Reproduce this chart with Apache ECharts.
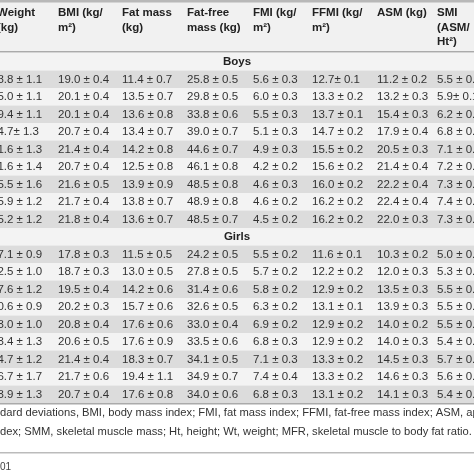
<!DOCTYPE html><html><head><meta charset="utf-8"><script src="https://cdn.jsdelivr.net/npm/echarts@6/dist/echarts.min.js"></script>
<style>html,body{margin:0;padding:0;background:#fff}#c{width:474px;height:474px}</style></head><body><div id="c"></div><script>
var headers=[["Weight","(kg)"],["BMI (kg/","m²)"],["Fat mass","(kg)"],["Fat-free","mass (kg)"],["FMI (kg/","m²)"],["FFMI (kg/","m²)"],["ASM (kg)"],["SMI","(ASM/","Ht²)"]];
var boys=[
["38.8 ± 1.1","19.0 ± 0.4","11.4 ± 0.7","25.8 ± 0.5","5.6 ± 0.3","12.7± 0.1","11.2 ± 0.2","5.5 ± 0.1"],
["45.0 ± 1.1","20.1 ± 0.4","13.5 ± 0.7","29.8 ± 0.5","6.0 ± 0.3","13.3 ± 0.2","13.2 ± 0.3","5.9± 0.1"],
["49.4 ± 1.1","20.1 ± 0.4","13.6 ± 0.8","33.8 ± 0.6","5.5 ± 0.3","13.7 ± 0.1","15.4 ± 0.3","6.2 ± 0.1"],
["54.7± 1.3","20.7 ± 0.4","13.4 ± 0.7","39.0 ± 0.7","5.1 ± 0.3","14.7 ± 0.2","17.9 ± 0.4","6.8 ± 0.1"],
["61.6 ± 1.3","21.4 ± 0.4","14.2 ± 0.8","44.6 ± 0.7","4.9 ± 0.3","15.5 ± 0.2","20.5 ± 0.3","7.1 ± 0.1"],
["61.6 ± 1.4","20.7 ± 0.4","12.5 ± 0.8","46.1 ± 0.8","4.2 ± 0.2","15.6 ± 0.2","21.4 ± 0.4","7.2 ± 0.1"],
["65.5 ± 1.6","21.6 ± 0.5","13.9 ± 0.9","48.5 ± 0.8","4.6 ± 0.3","16.0 ± 0.2","22.2 ± 0.4","7.3 ± 0.1"],
["65.9 ± 1.2","21.7 ± 0.4","13.8 ± 0.7","48.9 ± 0.8","4.6 ± 0.2","16.2 ± 0.2","22.4 ± 0.4","7.4 ± 0.1"],
["65.2 ± 1.2","21.8 ± 0.4","13.6 ± 0.7","48.5 ± 0.7","4.5 ± 0.2","16.2 ± 0.2","22.0 ± 0.3","7.3 ± 0.1"]];
var girls=[
["37.1 ± 0.9","17.8 ± 0.3","11.5 ± 0.5","24.2 ± 0.5","5.5 ± 0.2","11.6 ± 0.1","10.3 ± 0.2","5.0 ± 0.1"],
["42.5 ± 1.0","18.7 ± 0.3","13.0 ± 0.5","27.8 ± 0.5","5.7 ± 0.2","12.2 ± 0.2","12.0 ± 0.3","5.3 ± 0.1"],
["47.6 ± 1.2","19.5 ± 0.4","14.2 ± 0.6","31.4 ± 0.6","5.8 ± 0.2","12.9 ± 0.2","13.5 ± 0.3","5.5 ± 0.1"],
["50.6 ± 0.9","20.2 ± 0.3","15.7 ± 0.6","32.6 ± 0.5","6.3 ± 0.2","13.1 ± 0.1","13.9 ± 0.3","5.5 ± 0.1"],
["53.0 ± 1.0","20.8 ± 0.4","17.6 ± 0.6","33.0 ± 0.4","6.9 ± 0.2","12.9 ± 0.2","14.0 ± 0.2","5.5 ± 0.1"],
["53.4 ± 1.3","20.6 ± 0.5","17.6 ± 0.9","33.5 ± 0.6","6.8 ± 0.3","12.9 ± 0.2","14.0 ± 0.3","5.4 ± 0.1"],
["54.7 ± 1.2","21.4 ± 0.4","18.3 ± 0.7","34.1 ± 0.5","7.1 ± 0.3","13.3 ± 0.2","14.5 ± 0.3","5.7 ± 0.1"],
["56.7 ± 1.7","21.7 ± 0.6","19.4 ± 1.1","34.9 ± 0.7","7.4 ± 0.4","13.3 ± 0.2","14.6 ± 0.3","5.6 ± 0.1"],
["53.9 ± 1.3","20.7 ± 0.4","17.6 ± 0.8","34.0 ± 0.6","6.8 ± 0.3","13.1 ± 0.2","14.1 ± 0.3","5.4 ± 0.1"]];
var groups=["Boys","Girls"];
var notes=["dard deviations, BMI, body mass index; FMI, fat mass index; FFMI, fat-free mass index; ASM, ap","dex; SMM, skeletal muscle mass; Ht, height; Wt, weight; MFR, skeletal muscle to body fat ratio."];
var footer="01";

var colX=[-9,58,122,187,253,312,377,437];
var RH=17.5, F='Liberation Sans, Arial, sans-serif';
var g=[];
function rect(y,h,c){g.push({type:'rect',shape:{x:0,y:y,width:474,height:h},style:{fill:c},silent:true});}
function txt(x,y,s,o){g.push({type:'text',x:x,y:y,style:Object.assign({text:s,fill:'#222',font:'11.5px '+F,textVerticalAlign:'middle'},o||{}),silent:true});}
rect(0,52,'#f1f1f1'); rect(0,2.5,'#b8b8b8');
headers.forEach(function(h,i){h.forEach(function(s,j){txt(i==0?-3:colX[i],13+j*14.5,s,{font:'bold 11.5px '+F});});});
rect(51,1.5,'#aaaaaa');
var y=53;
[boys,girls].forEach(function(rows,gi){
  rect(y,RH,'#f3f3f3'); txt(237,y+RH/2+0.5,groups[gi],{font:'bold 11.5px '+F,textAlign:'center'}); y+=RH;
  rows.forEach(function(r,ri){rect(y,RH,ri%2==0?'#dcdcdc':'#f3f3f3');
    r.forEach(function(s,ci){txt(colX[ci],y+RH/2+0.5,s,{fill:'#333'});}); y+=RH;});
});
rect(y,1.5,'#aaaaaa');
notes.forEach(function(s,i){txt(0,413+i*19,s,{font:'11.2px '+F,fill:'#333'});});
rect(452,1.5,'#bbbbbb');
txt(0,467,footer,{font:'10px '+F,fill:'#444'});
var ch=echarts.init(document.getElementById('c'));
ch.setOption({animation:false,graphic:{elements:g}});
</script></body></html>
